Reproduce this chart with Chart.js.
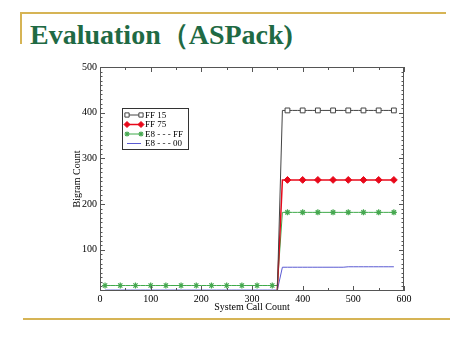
<!DOCTYPE html>
<html>
<head>
<meta charset="utf-8">
<script src="https://cdn.jsdelivr.net/npm/chart.js@4"></script>
<style>
  html,body{margin:0;padding:0;background:#fff;}
  #wrap{position:relative;width:474px;height:355px;overflow:hidden;background:#fff;}
  #title{position:absolute;left:30px;top:16px;font-family:"Liberation Serif",serif;font-weight:bold;font-size:28px;color:#1f6a44;white-space:nowrap;}
  .gl{position:absolute;background:#d6b455;}
  canvas{position:absolute;left:0;top:0;}
</style>
</head>
<body>
<div id="wrap">
  <div class="gl" style="left:20px;top:12px;width:426px;height:1.5px;"></div>
  <div class="gl" style="left:20px;top:12px;width:1.5px;height:32px;"></div>
  <div class="gl" style="left:23px;top:318px;width:427px;height:1.5px;"></div>
  <div id="title">Evaluation（ASPack)</div>
  <canvas id="c" width="474" height="355"></canvas>
</div>
<script>
const systemCallCount = [10,20,30,40,50,60,70,80,90,100,110,120,130,140,150,160,170,180,190,200,210,220,230,240,250,260,270,280,290,300,310,320,330,340,350,360,370,380,390,400,410,420,430,440,450,460,470,480,490,500,510,520,530,540,550,560,570,580];
const ff15 = [null,null,null,null,null,null,null,null,null,null,null,null,null,null,null,null,null,null,null,null,null,null,null,null,null,null,null,null,null,null,null,null,null,null,12,405,405,405,405,405,405,405,405,405,405,405,405,405,405,405,405,405,405,405,405,405,405,405];
const ff75 = [null,null,null,null,null,null,null,null,null,null,null,null,null,null,null,null,null,null,null,null,null,null,null,null,null,null,null,null,null,null,null,null,null,null,12,253,253,253,253,253,253,253,253,253,253,253,253,253,253,253,253,253,253,253,253,253,253,253];
const e8ff = [22,22,22,22,22,22,22,22,22,22,22,22,22,22,22,22,22,22,22,22,22,22,22,22,22,22,22,22,22,22,22,22,22,22,22,182,182,182,182,182,182,182,182,182,182,182,182,182,182,182,182,182,182,182,182,182,182,182];
const e800 = [12,12,12,12,12,12,12,12,12,12,12,12,12,12,12,12,12,12,12,12,12,12,12,12,12,12,12,12,12,12,12,12,12,12,12,62,62,62,62,62,62,62,62,62,62,62,62,62,63,63,63,63,63,63,63,63,63,63];
const seriesLabels = ['FF 15','FF 75','E8 - - - FF','E8 - - - 00'];
const xTickValues = [0,100,200,300,400,500,600];
const yTickValues = [100,200,300,400,500];

const toPts = arr => systemCallCount.map((x,i)=>({x:x,y:arr[i]}));
const markerAt = r => ctx => (ctx.raw && ctx.raw.y != null && (ctx.raw.x - 10) % 30 === 0) ? r : 0;

const FONT = '"Liberation Serif", "Times New Roman", serif';

const frameTicks = {
  id:'frameTicks',
  afterDatasetsDraw(chart){
    const {ctx, chartArea:a, scales:{x,y}} = chart;
    ctx.save();
    ctx.strokeStyle = '#555';
    ctx.lineWidth = 1;
    ctx.strokeRect(a.left+0.5, a.top+0.5, a.right-a.left-1, a.bottom-a.top-1);
    ctx.beginPath();
    for (let v = 0; v <= 600; v += 50) {
      const px = Math.round(x.getPixelForValue(v)) + 0.5;
      const len = v % 100 === 0 ? 5 : 3;
      ctx.moveTo(px, a.bottom); ctx.lineTo(px, a.bottom - len);
      ctx.moveTo(px, a.top); ctx.lineTo(px, a.top + len);
    }
    for (let v = 20; v <= 500; v += 10) {
      const py = Math.round(y.getPixelForValue(v)) + 0.5;
      const len = v % 100 === 0 ? 5 : 2.5;
      ctx.moveTo(a.left, py); ctx.lineTo(a.left + len, py);
      ctx.moveTo(a.right, py); ctx.lineTo(a.right - len, py);
    }
    ctx.stroke();
    ctx.restore();
  },
  afterDraw(chart){
    const ctx = chart.ctx;
    const bx = 122, by = 108, bw = 66, bh = 41;
    ctx.save();
    ctx.fillStyle = '#fff';
    ctx.fillRect(bx, by, bw, bh);
    ctx.strokeStyle = '#333';
    ctx.lineWidth = 1;
    ctx.strokeRect(bx+0.5, by+0.5, bw, bh);
    ctx.font = '9px ' + FONT;
    ctx.textBaseline = 'middle';
    chart.data.datasets.forEach((ds, i) => {
      const yy = by + 7 + i * 9.5;
      const x1 = bx + 5, x2 = bx + 19;
      ctx.strokeStyle = ds.borderColor;
      ctx.lineWidth = ds.borderWidth;
      ctx.beginPath(); ctx.moveTo(x1, yy); ctx.lineTo(x2, yy); ctx.stroke();
      if (ds.legendMarker) {
        [x1, x2].forEach(px => {
          ctx.fillStyle = ds.pointBackgroundColor;
          ctx.strokeStyle = ds.pointBorderColor;
          ctx.lineWidth = ds.pointBorderWidth;
          Chart.helpers.drawPoint(ctx, {
            pointStyle: ds.pointStyle, radius: ds.legendMarker, rotation: 0,
            borderWidth: ds.pointBorderWidth
          }, px, yy);
        });
      }
      ctx.fillStyle = '#000';
      ctx.fillText(ds.label, bx + 23, yy + 0.5);
    });
    ctx.restore();
  }
};

new Chart(document.getElementById('c'), {
  type: 'line',
  data: {
    datasets: [
      { label: seriesLabels[0], data: toPts(ff15), borderColor:'#444', borderWidth:1,
        pointStyle:'rect', pointRadius: markerAt(3.4), pointBackgroundColor:'#fff', pointBorderColor:'#444', pointBorderWidth:1, legendMarker:3 },
      { label: seriesLabels[1], data: toPts(ff75), borderColor:'#e8081a', borderWidth:1.5,
        pointStyle:'rectRot', pointRadius: markerAt(3.4), pointBackgroundColor:'#e8081a', pointBorderColor:'#e8081a', pointBorderWidth:1, legendMarker:3 },
      { label: seriesLabels[2], data: toPts(e8ff), borderColor:'#3faa4a', borderWidth:1,
        pointStyle:'star', pointRadius: markerAt(3), pointBackgroundColor:'#3faa4a', pointBorderColor:'#46a850', pointBorderWidth:1.2, legendMarker:2.6 },
      { label: seriesLabels[3], data: toPts(e800), borderColor:'#5a5ad2', borderWidth:1,
        pointRadius: 0, legendMarker:0 }
    ]
  },
  options: {
    responsive:false,
    animation:false,
    devicePixelRatio:1,
    layout:{ padding:{ left:68, right:70, top:67, bottom:42 } },
    elements:{ line:{ tension:0 }, point:{ hoverRadius:0 } },
    plugins:{ legend:{display:false}, tooltip:{enabled:false} },
    scales:{
      x:{
        type:'linear', min:0, max:600,
        grid:{display:false, drawTicks:false}, border:{display:false},
        afterBuildTicks: s => { s.ticks = xTickValues.map(v=>({value:v})); },
        afterFit: s => { s.height = 22; },
        ticks:{ padding:2, color:'#000', font:{family:FONT, size:10}, maxRotation:0 },
        title:{ display:true, text:'System Call Count', color:'#000', font:{family:FONT, size:10}, padding:{top:0,bottom:0} }
      },
      y:{
        type:'linear', min:10, max:500,
        grid:{display:false, drawTicks:false}, border:{display:false},
        afterBuildTicks: s => { s.ticks = yTickValues.map(v=>({value:v})); },
        afterFit: s => { s.width = 32; },
        ticks:{ padding:3, color:'#000', font:{family:FONT, size:10} },
        title:{ display:true, text:'Bigram Count', color:'#000', font:{family:FONT, size:10}, padding:{top:3,bottom:0} }
      }
    }
  },
  plugins:[frameTicks]
});
</script>
</body>
</html>
